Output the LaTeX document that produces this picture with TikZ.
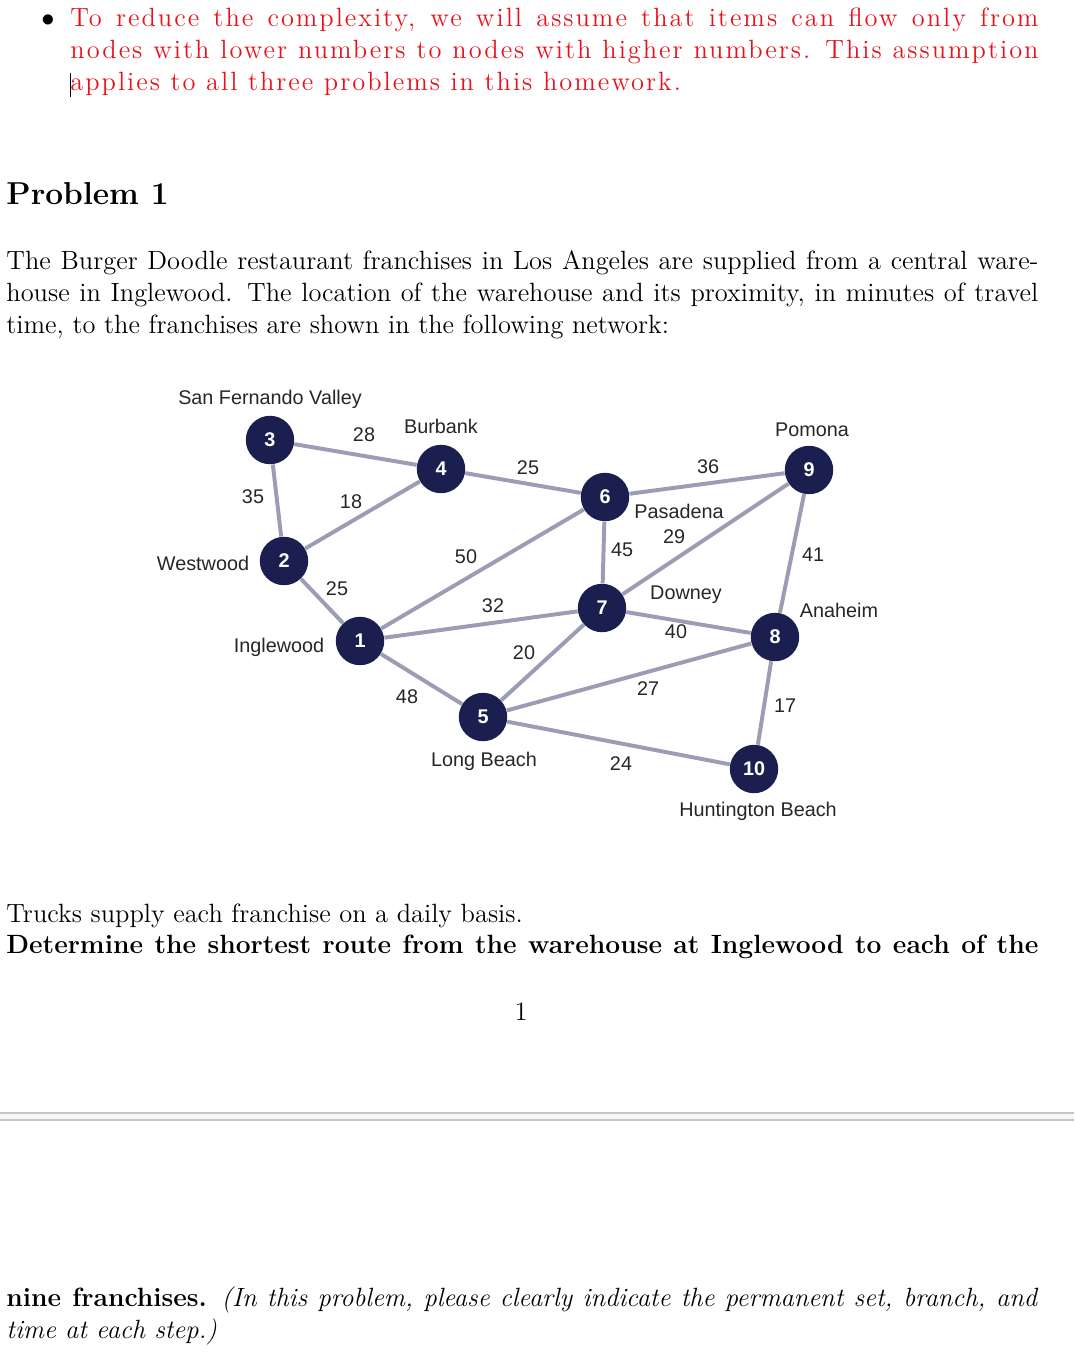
\documentclass[tikz,border=0pt]{standalone}
\usepackage{fontspec}
\newfontfamily\diagfont{Liberation Sans}
\newfontfamily\notefont{Latin Modern Roman}[LetterSpace=7.5]
\usepackage{xcolor}
\usetikzlibrary{positioning}

\definecolor{navynode}{HTML}{1B1F50}
\definecolor{roadline}{HTML}{9D9CB5}
\definecolor{hwred}{HTML}{E8111A}

\begin{document}
\begin{tikzpicture}[
    x=0.4545pt, y=-0.4545pt,
    every node/.style={inner sep=0pt}
]

\tikzset{
    bodyline/.style={anchor=base west, font=\fontsize{12}{14.5}\selectfont},
    redline/.style={anchor=base west, text=hwred, font=\notefont\fontsize{12}{14.5}\selectfont},
    headline/.style={anchor=base west, font=\fontsize{14.4}{18}\selectfont\bfseries},
    citynode/.style={circle, fill=navynode, minimum size=22pt, text=white, font=\diagfont\bfseries\fontsize{9}{10}\selectfont},
    placelabel/.style={font=\diagfont\fontsize{9}{11}\selectfont, text=black!85},
    weightlabel/.style={font=\diagfont\fontsize{9}{11}\selectfont, text=black!85},
    road/.style={draw=roadline, line width=1.8pt},
    pagerule/.style={draw=gray!45, line width=0.5pt}
}

\useasboundingbox (0,0) rectangle (1074,1355);

% note at the top
\node [bodyline, anchor=base] (bullet) at (48,27) {$\bullet$};
\node [redline] (note1) at (70,27) {\makebox[440pt][s]{To reduce the complexity, we will assume that items can flow only from}};
\node [redline] (note2) at (70,59) {\makebox[440pt][s]{nodes with lower numbers to nodes with higher numbers. This assumption}};
\node [redline] (note3) at (70,91) {applies to all three problems in this homework.};
\draw [line width=0.4pt] (70,73) -- (70,97);

\node [headline] (heading) at (6,205) {Problem 1};

\node [bodyline] (intro1) at (6,270) {\makebox[469pt][s]{The Burger Doodle restaurant franchises in Los Angeles are supplied from a central ware-}};
\node [bodyline] (intro2) at (6,302) {\makebox[469pt][s]{house in Inglewood. The location of the warehouse and its proximity, in minutes of travel}};
\node [bodyline] (intro3) at (6,334) {time, to the franchises are shown in the following network:};

% network
\node [citynode] (sfv) at (270,440) {3};
\node [citynode] (burbank) at (441,469) {4};
\node [citynode] (westwood) at (284,561) {2};
\node [citynode] (inglewood) at (360,641) {1};
\node [citynode] (pasadena) at (605,497) {6};
\node [citynode] (pomona) at (809,470) {9};
\node [citynode] (downey) at (602,608) {7};
\node [citynode] (anaheim) at (775,637) {8};
\node [citynode] (longbeach) at (483,717) {5};
\node [citynode] (huntington) at (754,769) {10};

\draw [road] (sfv) -- (burbank);
\draw [road] (sfv) -- (westwood);
\draw [road] (westwood) -- (burbank);
\draw [road] (burbank) -- (pasadena);
\draw [road] (pasadena) -- (pomona);
\draw [road] (westwood) -- (inglewood);
\draw [road] (inglewood) -- (pasadena);
\draw [road] (inglewood) -- (downey);
\draw [road] (inglewood) -- (longbeach);
\draw [road] (pasadena) -- (downey);
\draw [road] (downey) -- (pomona);
\draw [road] (downey) -- (anaheim);
\draw [road] (pomona) -- (anaheim);
\draw [road] (longbeach) -- (downey);
\draw [road] (longbeach) -- (anaheim);
\draw [road] (longbeach) -- (huntington);
\draw [road] (anaheim) -- (huntington);

\node [placelabel] (sfvname) at (270,399) {San Fernando Valley};
\node [placelabel] (burbankname) at (441,426) {Burbank};
\node [placelabel] (westwoodname) at (203,563) {Westwood};
\node [placelabel] (inglewoodname) at (279,647) {Inglewood};
\node [placelabel] (pomonaname) at (812,430) {Pomona};
\node [placelabel] (pasadenaname) at (679,511) {Pasadena};
\node [placelabel] (downeyname) at (686,595) {Downey};
\node [placelabel] (anaheimname) at (839,610) {Anaheim};
\node [placelabel] (longbeachname) at (484,761) {Long Beach};
\node [placelabel] (huntingtonname) at (758,811) {Huntington Beach};

\node [weightlabel] (w34) at (364,435) {28};
\node [weightlabel] (w23) at (253,497) {35};
\node [weightlabel] (w24) at (351,502) {18};
\node [weightlabel] (w46) at (528,468) {25};
\node [weightlabel] (w69) at (708,467) {36};
\node [weightlabel] (w16) at (466,557) {50};
\node [weightlabel] (w67) at (622,550) {45};
\node [weightlabel] (w79) at (674,537) {29};
\node [weightlabel] (w89) at (813,555) {41};
\node [weightlabel] (w12) at (337,589) {25};
\node [weightlabel] (w17) at (493,606) {32};
\node [weightlabel] (w78) at (676,632) {40};
\node [weightlabel] (w57) at (524,653) {20};
\node [weightlabel] (w15) at (407,697) {48};
\node [weightlabel] (w58) at (648,689) {27};
\node [weightlabel] (w810) at (785,706) {17};
\node [weightlabel] (w510) at (621,764) {24};

\node [bodyline] (trucks) at (6,922) {Trucks supply each franchise on a daily basis.};
\node [bodyline] (task1) at (6,953) {\makebox[469pt][s]{\bfseries Determine the shortest route from the warehouse at Inglewood to each of the}};

\node [bodyline, anchor=base] (pagenum) at (521,1020) {1};

% page break
\fill [gray!6] (0,1113) rectangle (1074,1120);
\draw [pagerule] (0,1113) -- (1074,1113);
\draw [pagerule] (0,1120) -- (1074,1120);

\node [bodyline] (task2) at (6,1306) {\makebox[469pt][s]{\textbf{nine franchises.} \textit{(In this problem, please clearly indicate the permanent set, branch, and}}};
\node [bodyline] (task3) at (6,1338) {\textit{time at each step.)}};

\end{tikzpicture}
\end{document}
